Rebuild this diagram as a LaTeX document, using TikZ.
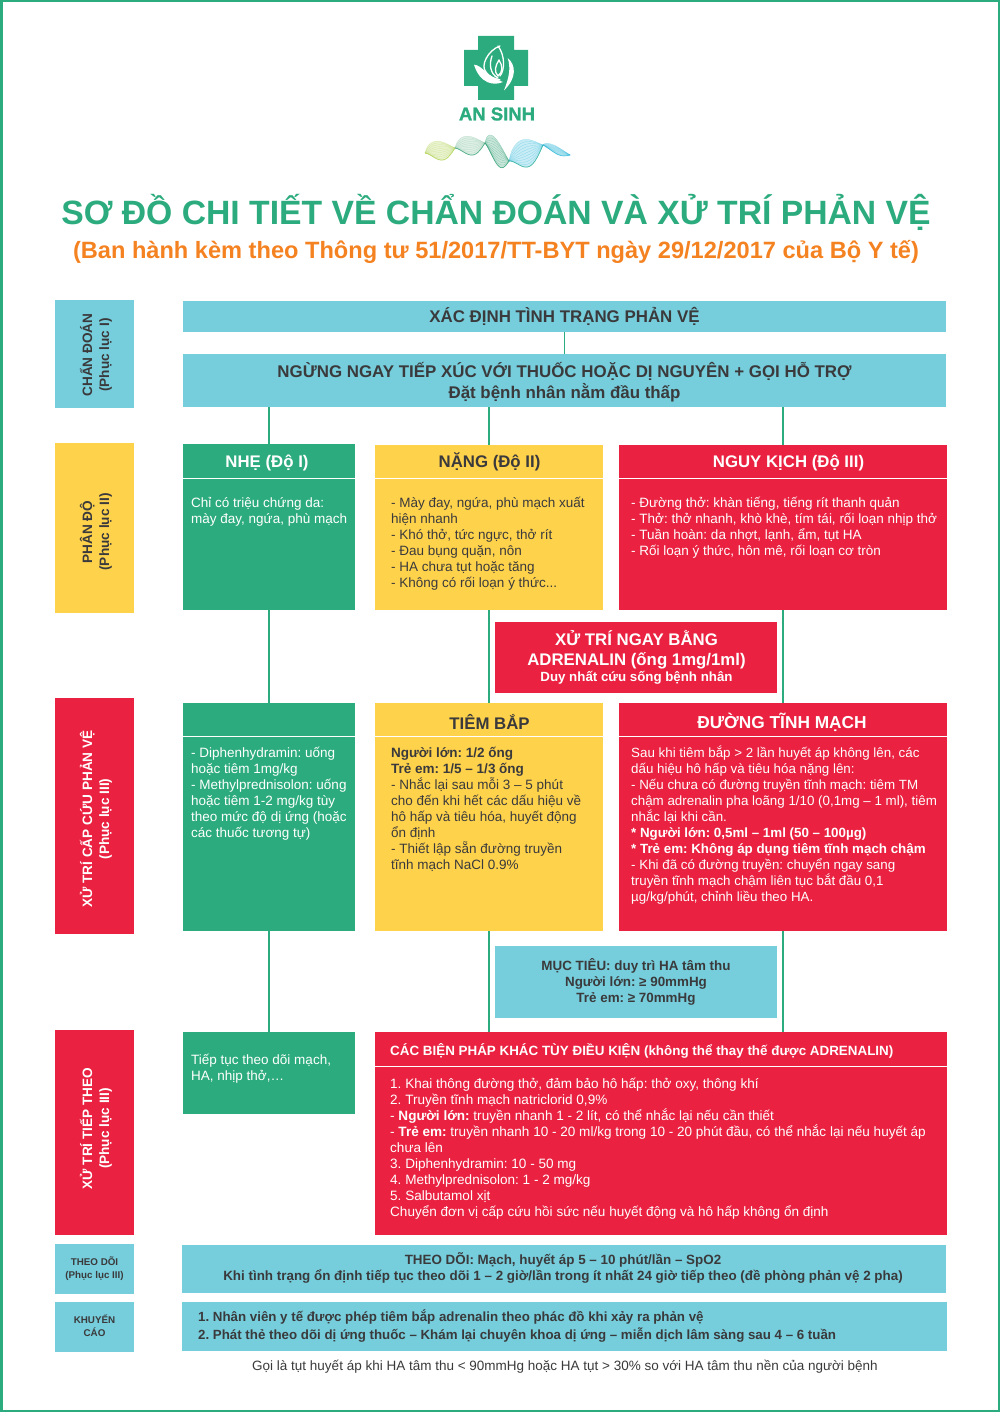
\documentclass[tikz,border=0pt]{standalone}
\usepackage{fontspec}
\setmainfont{Liberation Sans}
\newfontfamily\brandfont[FakeBold=1.3]{Liberation Sans Bold}
\frenchspacing
\definecolor{cgreen}{HTML}{2CAC7E}
\definecolor{cteal}{HTML}{76CDDB}
\definecolor{cyellow}{HTML}{FFD24C}
\definecolor{cred}{HTML}{EA2140}
\definecolor{cdark}{HTML}{3A3A3C}
\definecolor{corange}{HTML}{F58220}
\definecolor{wlime}{HTML}{B5D65C}
\definecolor{wgreen}{HTML}{3FA87F}
\definecolor{wpale}{HTML}{8CC6A8}
\definecolor{wteal}{HTML}{35B39A}
\definecolor{wblue}{HTML}{3CBEDD}
\tikzset{
  x=1pt,y=-1pt,
  boxbase/.style={inner sep=0pt,outer sep=0pt,draw=none},
  gbox/.style={boxbase,fill=cgreen},
  tbox/.style={boxbase,fill=cteal},
  ybox/.style={boxbase,fill=cyellow},
  rbox/.style={boxbase,fill=cred},
  link/.style={draw=cgreen,line width=1.3pt,xshift=-0.7pt},
  sep/.style={draw=white,line width=1pt},
  body/.style={anchor=north west,inner sep=0pt,align=left,font=\fontsize{13.5}{16}\selectfont},
  bodyw/.style={body,text=white},
  bodyd/.style={body,text=cdark},
  head/.style={inner sep=0pt,anchor=base,font=\fontsize{16.8}{20}\selectfont\bfseries},
  side/.style={inner sep=0pt,rotate=90,align=center,text=cdark,font=\fontsize{13.6}{17}\selectfont\bfseries},
  sidesmall/.style={inner sep=0pt,align=center,text=cdark,font=\fontsize{9.8}{13}\selectfont\bfseries},
  center text/.style={inner sep=0pt,align=center,text=cdark,font=\fontsize{13.4}{16}\selectfont\bfseries},
  wave/.style={line width=0.3pt,opacity=0.45},
  declare function={twist(\t,\k)=sin(180*pow(\t,1+0.35*\k));}
}
\newcommand{\bx}[6]{\node[#6,minimum width={#4-#2},minimum height={#5-#3}] (#1) at ({(#2+#4)/2},{(#3+#5)/2}) {};}
\newcommand{\tx}[5]{\node[#4] (#1) at (#2,{#3-11.2}) {\strut #5};}
\begin{document}
\begin{tikzpicture}
\useasboundingbox (0,0) rectangle (1000,1412);
\fill[white] (0,0) rectangle (1000,1412);
\draw[cgreen,line width=2.5pt] (1.25,1.25) rectangle (998.75,1410.75);
% logo
\fill[cgreen] (478,36) -- (514,36) -- (514,50) -- (528,50) -- (528,86) -- (514,86) -- (514,100) -- (478,100) -- (478,86) -- (464,86) -- (464,50) -- (478,50) -- cycle;
\fill[white] (474,64.7) .. controls (482,65) and (486,76) .. (503,82) .. controls (494,86) and (480,84) .. cycle;
\fill[white] (507.7,58) .. controls (516,65) and (517,78) .. (504,90.3) .. controls (509,78) and (511,68) .. cycle;
\begin{scope}[draw=white,line width=1.3pt,line cap=round]
\draw (500,46) .. controls (488,50) and (480,66) .. (486,72) .. controls (489,78) and (495,78) .. (500,80);
\draw (492,56) .. controls (489,64) and (490,74) .. (498,78);
\draw (499,60) .. controls (495,66) and (494,72) .. (498,76);
\draw (499,60) .. controls (503,66) and (503,72) .. (498,76);
\draw (498,46) .. controls (505,55) and (505,70) .. (500,76);
\end{scope}
\node[inner sep=0pt,text=cgreen,font=\brandfont\fontsize{18.5}{20}\selectfont] (brand) at (497,114) {AN SINH};
\foreach \a/\ya/\b/\yb/\A/\c/\e in {425/153/455/148/10/wlime/wlime,455/148/485/143/10/wpale/wgreen,485/143/509/161/13/wgreen/wgreen,509/161/543/145/15/wblue/wteal,543/145/570/155/4/wblue/wblue}{
  \fill[\c,opacity=0.28] plot[domain=\a+0.05:\b,samples=18,smooth] (\x,{\ya+(\yb-\ya)*(\x-\a)/(\b-\a)-\A*twist((\x-\a)/(\b-\a),-1)}) -- plot[domain=\b:\a+0.05,samples=18,smooth] (\x,{\ya+(\yb-\ya)*(\x-\a)/(\b-\a)+\A*twist((\x-\a)/(\b-\a),1)}) -- cycle;
  \foreach \k in {-1,-0.8,...,1.01}{
    \draw[wave,\c] plot[domain=\a+0.05:\b,samples=18,smooth] (\x,{\ya+(\yb-\ya)*(\x-\a)/(\b-\a)+\k*\A*twist((\x-\a)/(\b-\a),\k)});
  }
  \draw[\e,line width=0.7pt,opacity=0.85] plot[domain=\a+0.05:\b,samples=18,smooth] (\x,{\ya+(\yb-\ya)*(\x-\a)/(\b-\a)+\A*twist((\x-\a)/(\b-\a),1)});
}
% title
\node[inner sep=0pt,text=cgreen,font=\fontsize{33.7}{40}\selectfont\bfseries] (title) at (496,212) {SƠ ĐỒ CHI TIẾT VỀ CHẨN ĐOÁN VÀ XỬ TRÍ PHẢN VỆ};
\node[inner sep=0pt,text=corange,font=\fontsize{23.6}{28}\selectfont\bfseries] (subtitle) at (496,252) {(Ban hành kèm theo Thông tư 51/2017/TT-BYT ngày 29/12/2017 của Bộ Y tế)};
% side column
\bx{s1}{55}{300}{134}{408}{tbox}
\bx{s2}{55}{443}{134}{613}{ybox}
\bx{s3}{55}{698}{134}{934}{rbox}
\bx{s4}{55}{1030}{134}{1235}{rbox}
\bx{s5}{55}{1244}{134}{1294}{tbox}
\bx{s6}{55}{1302}{134}{1352}{tbox}
\node[side] (s1t) at ([xshift=1.5pt,yshift=-1pt]s1.center) {CHẨN ĐOÁN\\(Phục lục I)};
\node[side] (s2t) at ([xshift=1.5pt,yshift=-4pt]s2.center) {PHÂN ĐỘ\\(Phục lục II)};
\node[side,text=white] (s3t) at ([xshift=1.5pt,yshift=-3pt]s3.center) {XỬ TRÍ CẤP CỨU PHẢN VỆ\\(Phục lục III)};
\node[side,text=white] (s4t) at ([xshift=1.5pt,yshift=4pt]s4.center) {XỬ TRÍ TIẾP THEO\\(Phục lục III)};
\node[sidesmall] (s5t) at (s5) {THEO DÕI\\(Phục lục III)};
\node[sidesmall] (s6t) at ([yshift=1pt]s6.center) {KHUYẾN\\CÁO};
% boxes
\bx{xacdinh}{183}{301}{946}{332}{tbox}
\bx{ngung}{183}{354}{946}{407}{tbox}
\bx{nhe}{183}{444}{355}{610}{gbox}
\bx{nang}{375}{445}{603}{610}{ybox}
\bx{kich}{619}{445}{947}{610}{rbox}
\bx{adr}{495}{622}{777}{693}{rbox}
\bx{nhehai}{183}{703}{355}{931}{gbox}
\bx{tiem}{375}{703}{603}{931}{ybox}
\bx{tinh}{619}{703}{947}{931}{rbox}
\bx{muctieu}{495}{946}{777}{1018}{tbox}
\bx{tieptuc}{183}{1032}{355}{1114}{gbox}
\bx{bien}{375}{1032}{947}{1235}{rbox}
\bx{theodoi}{182}{1245}{946}{1293}{tbox}
\bx{khuyen}{182}{1302}{947}{1351}{tbox}
% connectors
\draw[link,xshift=0.7pt] (xacdinh.south) -- (ngung.north);
\draw[link] (ngung.south -| nhe.north) -- (nhe.north);
\draw[link] (ngung.south -| nang.north) -- (nang.north);
\draw[link] (ngung.south -| kich.north) -- (kich.north);
\draw[link] (nhe.south) -- (nhehai.north);
\draw[link] (nang.south) -- (tiem.north);
\draw[link] (kich.south) -- (tinh.north);
\draw[link] (nhehai.south) -- (tieptuc.north);
\draw[link] (tiem.south) -- (tiem.south |- bien.north);
\draw[link] (tinh.south) -- (tinh.south |- bien.north);
% separators
\draw[sep] (183,478) -- (355,478);
\draw[sep] (375,478) -- (603,478);
\draw[sep] (619,478) -- (947,478);
\draw[sep] (183,736) -- (355,736);
\draw[sep] (375,736) -- (603,736);
\draw[sep] (619,736) -- (947,736);
\draw[sep] (375,1066) -- (947,1066);
% headings
\node[center text,font=\fontsize{16.9}{21}\selectfont\bfseries] (xdt) at (564.5,316) {XÁC ĐỊNH TÌNH TRẠNG PHẢN VỆ};
\node[center text,font=\fontsize{16.9}{21}\selectfont\bfseries] (ngt) at (564.5,382) {NGỪNG NGAY TIẾP XÚC VỚI THUỐC HOẶC DỊ NGUYÊN + GỌI HỖ TRỢ\\Đặt bệnh nhân nằm đầu thấp};
\node[head,text=white] (h1) at (267,467) {NHẸ (Độ I)};
\node[head,text=cdark] (h2) at (489.5,467) {NẶNG (Độ II)};
\node[head,text=white] (h3) at (788.5,467) {NGUY KỊCH (Độ III)};
\node[head,text=cdark] (h4) at (489.5,729) {TIÊM BẮP};
\node[head,text=white,font=\fontsize{17.3}{20}\selectfont\bfseries] (h5) at (782,728) {ĐƯỜNG TĨNH MẠCH};
\node[center text,text=white,font=\fontsize{16.8}{20}\selectfont\bfseries] (adrt) at (636.5,649.5) {XỬ TRÍ NGAY BẰNG\\ADRENALIN (ống 1mg/1ml)};
\node[center text,text=white,font=\fontsize{13.3}{16}\selectfont\bfseries] (adrs) at (636.5,677.5) {Duy nhất cứu sống bệnh nhân};
\node[center text] (mt) at (636,982) {MỤC TIÊU: duy trì HA tâm thu\\Người lớn: ≥ 90mmHg\\Trẻ em: ≥ 70mmHg};
% body text
\tx{t1}{191}{507}{bodyw}{Chỉ có triệu chứng da:\\mày đay, ngứa, phù mạch}
\tx{t2}{391}{507}{bodyd}{- Mày đay, ngứa, phù mạch xuất\\hiện nhanh\\- Khó thở, tức ngực, thở rít\\- Đau bụng quặn, nôn\\- HA chưa tụt hoặc tăng\\- Không có rối loạn ý thức...}
\tx{t3}{631}{507}{bodyw}{- Đường thở: khàn tiếng, tiếng rít thanh quản\\- Thở: thở nhanh, khò khè, tím tái, rối loạn nhịp thở\\- Tuần hoàn: da nhợt, lạnh, ẩm, tụt HA\\- Rối loạn ý thức, hôn mê, rối loạn cơ tròn}
\tx{t4}{191}{757}{bodyw}{- Diphenhydramin: uống\\hoặc tiêm 1mg/kg\\- Methylprednisolon: uống\\hoặc tiêm 1-2 mg/kg tùy\\theo mức độ dị ứng (hoặc\\các thuốc tương tự)}
\tx{t5}{391}{757}{bodyd}{\textbf{Người lớn: 1/2 ống}\\\textbf{Trẻ em: 1/5 – 1/3 ống}\\- Nhắc lại sau mỗi 3 – 5 phút\\cho đến khi hết các dấu hiệu về\\hô hấp và tiêu hóa, huyết động\\ổn định\\- Thiết lập sẵn đường truyền\\tĩnh mạch NaCl 0.9\%}
\tx{t6}{631}{757}{bodyw,font=\fontsize{13.35}{16}\selectfont}{Sau khi tiêm bắp > 2 lần huyết áp không lên, các\\dấu hiệu hô hấp và tiêu hóa nặng lên:\\- Nếu chưa có đường truyền tĩnh mạch: tiêm TM\\chậm adrenalin pha loãng 1/10 (0,1mg – 1 ml), tiêm\\nhắc lại khi cần.\\\textbf{* Người lớn: 0,5ml – 1ml (50 – 100µg)}\\\textbf{* Trẻ em: Không áp dụng tiêm tĩnh mạch chậm}\\- Khi đã có đường truyền: chuyển ngay sang\\truyền tĩnh mạch chậm liên tục bắt đầu 0,1\\µg/kg/phút, chỉnh liều theo HA.}
\tx{t7}{191}{1064}{bodyw}{Tiếp tục theo dõi mạch,\\HA, nhịp thở,…}
\node[anchor=west,inner sep=0pt,text=white,font=\fontsize{13.4}{16}\selectfont\bfseries] (h6) at (390,1051) {CÁC BIỆN PHÁP KHÁC TÙY ĐIỀU KIỆN (không thể thay thế được ADRENALIN)};
\tx{t8}{390}{1088}{bodyw,font=\fontsize{13.55}{16}\selectfont}{1. Khai thông đường thở, đảm bảo hô hấp: thở oxy, thông khí\\2. Truyền tĩnh mạch natriclorid 0,9\%\\- \textbf{Người lớn:} truyền nhanh 1 - 2 lít, có thể nhắc lại nếu cần thiết\\- \textbf{Trẻ em:} truyền nhanh 10 - 20 ml/kg trong 10 - 20 phút đầu, có thể nhắc lại nếu huyết áp\\chưa lên\\3. Diphenhydramin: 10 - 50 mg\\4. Methylprednisolon: 1 - 2 mg/kg\\5. Salbutamol xịt\\Chuyển đơn vị cấp cứu hồi sức nếu huyết động và hô hấp không ổn định}
\node[center text] (tdt) at (563,1268) {THEO DÕI: Mạch, huyết áp 5 – 10 phút/lần – SpO2\\Khi tình trạng ổn định tiếp tục theo dõi 1 – 2 giờ/lần trong ít nhất 24 giờ tiếp theo (đề phòng phản vệ 2 pha)};
\tx{kct}{198}{1321}{bodyd,font=\fontsize{13.3}{16}\selectfont\bfseries}{1. Nhân viên y tế được phép tiêm bắp adrenalin theo phác đồ khi xảy ra phản vệ\\2. Phát thẻ theo dõi dị ứng thuốc – Khám lại chuyên khoa dị ứng – miễn dịch lâm sàng sau 4 – 6 tuần}
\node[inner sep=0pt,text=cdark,font=\fontsize{13.5}{16}\selectfont] (foot) at (565,1366.5) {Gọi là tụt huyết áp khi HA tâm thu < 90mmHg hoặc HA tụt > 30\% so với HA tâm thu nền của người bệnh};
\end{tikzpicture}
\end{document}
